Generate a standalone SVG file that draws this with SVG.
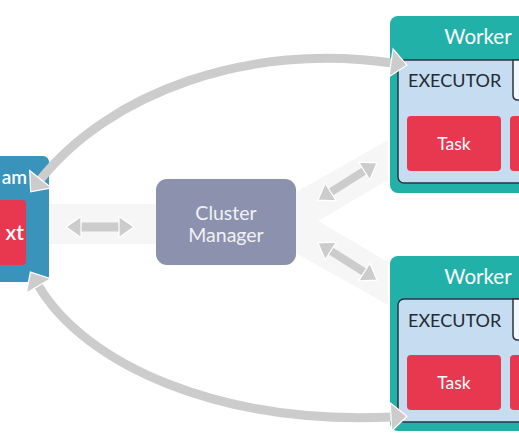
<svg xmlns="http://www.w3.org/2000/svg" width="519" height="442" viewBox="0 0 519 442">
<style>
.lbl{font-family:Lato,"Open Sans","Liberation Sans",sans-serif;}
.w{fill:#ffffff;}
.shaft{fill:none;stroke:#cccccc;stroke-width:8;}
.arc{fill:none;stroke:#cccccc;stroke-width:9;}
.worker{fill:#21b1a9;}
.exec{fill:#c6dcf0;stroke:#2a3540;stroke-width:1.5;}
.tab{fill:#f4f7fb;stroke:#2a3540;stroke-width:1.5;}
.task{fill:#e8384f;}
</style>
<defs>
<marker id="ah" markerUnits="userSpaceOnUse" markerWidth="20" markerHeight="26" viewBox="-3 -13 20 26" refX="0" refY="0" orient="auto-start-reverse">
<path d="M-1,-10.5 L14,0 L-1,10.5 Z" fill="#cccccc" stroke="#ffffff" stroke-width="1.2"/>
</marker>
<marker id="ahb" markerUnits="userSpaceOnUse" markerWidth="22" markerHeight="34" viewBox="-3 -17 22 34" refX="0" refY="0" orient="auto-start-reverse">
<path d="M-1,-14 L15,0 L-1,14 Z" fill="#cccccc" stroke="#ffffff" stroke-width="1.2"/>
</marker>
</defs>
<rect width="519" height="442" fill="#ffffff"/>
<g id="background">
<rect x="48" y="204" width="110" height="40" fill="#f6f6f7"/>
<polygon points="296,192 388,140 388,180 318,221 388,262 388,305 296,253" fill="#f6f6f7"/>
</g>
<g id="driver">
<rect x="-10" y="156" width="59" height="126" rx="6" fill="#3a93bb"/>
<rect x="-10" y="200" width="36" height="65" rx="4" class="task"/>
<text x="27" y="184" class="lbl w" font-size="19" text-anchor="end" font-weight="600">am</text>
<text x="24" y="240" class="lbl w" font-size="21" text-anchor="end" font-weight="600">xt</text>
</g>
<g id="cluster-manager">
<rect x="156" y="179" width="140" height="86" rx="11" fill="#8c91ad"/>
<text x="226" y="220" class="lbl" fill="#f0f1f6" font-size="19.5" text-anchor="middle">Cluster</text>
<text x="226" y="242" class="lbl" fill="#f0f1f6" font-size="19.5" text-anchor="middle">Manager</text>
</g>
<g id="worker-top">
<rect x="390" y="16" width="150" height="177" rx="8" class="worker"/>
<text x="478" y="44" class="lbl w" font-size="20.5" text-anchor="middle">Worker</text>
<rect x="398" y="60" width="140" height="123" rx="6" class="exec"/>
<path d="M513,60 L513,95 Q513,100 518,100 L540,100 L540,60 Z" class="tab"/>
<text x="408" y="87" class="lbl" fill="#1f2a35" font-size="18">EXECUTOR</text>
<rect x="407" y="116" width="94" height="55" rx="4" class="task"/>
<rect x="510" y="116" width="40" height="55" rx="4" class="task"/>
<text x="454" y="150" class="lbl w" font-size="17.5" text-anchor="middle">Task</text>
</g>
<g id="worker-bottom">
<rect x="390" y="256" width="150" height="175" rx="8" class="worker"/>
<text x="478" y="284" class="lbl w" font-size="20.5" text-anchor="middle">Worker</text>
<rect x="398" y="299" width="140" height="123" rx="6" class="exec"/>
<path d="M513,299 L513,335 Q513,340 518,340 L540,340 L540,299 Z" class="tab"/>
<text x="408" y="327" class="lbl" fill="#1f2a35" font-size="18">EXECUTOR</text>
<rect x="407" y="355" width="94" height="55" rx="4" class="task"/>
<rect x="510" y="355" width="40" height="55" rx="4" class="task"/>
<text x="454" y="389" class="lbl w" font-size="17.5" text-anchor="middle">Task</text>
</g>
<g id="connectors">
<line x1="80" y1="227" x2="120" y2="227" stroke="#cccccc" stroke-width="9" marker-start="url(#ah)" marker-end="url(#ah)"/>
<line x1="329.9" y1="192.6" x2="365.1" y2="170.4" class="shaft" marker-start="url(#ah)" marker-end="url(#ah)"/>
<line x1="329.9" y1="250.4" x2="365.1" y2="272.6" class="shaft" marker-start="url(#ah)" marker-end="url(#ah)"/>
<path d="M40,180 C110,92 250,42 392,63" class="arc" marker-start="url(#ahb)" marker-end="url(#ahb)"/>
<path d="M38,285 C85,365 220,425 392,417" class="arc" marker-start="url(#ahb)" marker-end="url(#ahb)"/>
</g>
</svg>
